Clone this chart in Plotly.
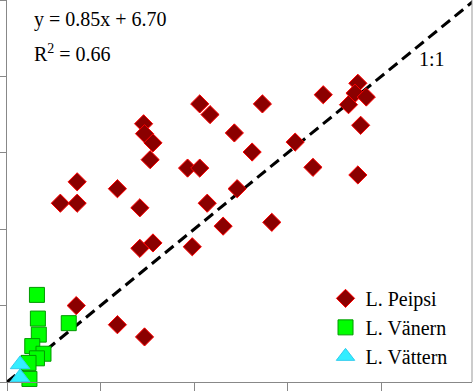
import plotly.graph_objects as go

# ---- data ----
peipsi_x = [37.5, 37.2, 38.4, 36.5, 33.8, 27.3, 20.6, 21.7, 14.6, 14.7, 15.6, 15.3,
            24.3, 37.8, 30.8, 26.2, 19.3, 20.6, 32.7, 37.5, 24.6, 7.5, 11.8, 5.7,
            7.5, 14.2, 21.4, 28.3, 23.1, 14.2, 15.6, 19.8, 7.4, 11.8, 14.7]
peipsi_y = [39.1, 37.8, 37.3, 36.3, 37.6, 36.4, 36.4, 35.0, 33.8, 32.5, 31.3, 29.1,
            32.6, 33.6, 31.4, 30.1, 28.0, 28.0, 28.1, 27.1, 25.3, 26.2, 25.3, 23.4,
            23.4, 22.8, 23.4, 20.9, 20.4, 17.5, 18.2, 17.7, 10.0, 7.5, 5.9]

vanern_x = [3.2, 3.3, 6.6, 3.4, 2.7, 3.9, 3.2, 2.3, 2.4]
vanern_y = [11.4, 8.3, 7.7, 6.2, 4.7, 3.7, 3.1, 2.5, 0.4]

vattern_x = [1.4, 1.4]
vattern_y = [2.3, 0.6]

one_to_one = [0, 50]
tick_vals = [0, 10, 20, 30, 40, 50]

eq_text = "y = 0.85x + 6.70"
r2_text = "R<sup>2</sup> = 0.66"
line_label = "1:1"

FONT = "Liberation Serif, Times New Roman, serif"

fig = go.Figure()

fig.add_trace(go.Scatter(
    x=one_to_one, y=one_to_one, mode="lines",
    line=dict(color="black", width=3, dash="11px,6px"),
    showlegend=False, hoverinfo="skip"))

fig.add_trace(go.Scatter(
    x=peipsi_x, y=peipsi_y, mode="markers", name="L. Peipsi",
    marker=dict(symbol="diamond", size=14, color="#8B0000",
                line=dict(color="#FF0000", width=1))))

fig.add_trace(go.Scatter(
    x=vanern_x, y=vanern_y, mode="markers", name="L. Vänern",
    marker=dict(symbol="square", size=15, color="#00FF00",
                line=dict(color="#009900", width=1))))

fig.add_trace(go.Scatter(
    x=vattern_x, y=vattern_y, mode="markers", name="L. Vättern",
    marker=dict(symbol="triangle-up", size=17, color="#33EEFF",
                line=dict(color="#33CCEE", width=1))))

fig.update_traces(cliponaxis=False, selector=dict(mode="markers"))

axis_common = dict(showgrid=False, zeroline=False, showticklabels=False,
                   ticks="outside", tickcolor="#888888", tickwidth=1,
                   showline=True, linecolor="#888888", linewidth=1,
                   tickvals=tick_vals)

fig.update_xaxes(range=[0, 49.7], ticklen=9, **axis_common)
fig.update_yaxes(range=[0, 50], ticklen=7, **axis_common)

fig.add_shape(type="line", xref="paper", yref="paper", x0=1, x1=1, y0=0, y1=1,
              line=dict(color="#999999", width=1))

fig.add_annotation(text=eq_text, xref="paper", yref="paper", x=0.053, y=0.948,
                   xanchor="left", yanchor="middle", showarrow=False,
                   font=dict(family=FONT, size=20, color="black"))
fig.add_annotation(text=r2_text, xref="paper", yref="paper", x=0.053, y=0.862,
                   xanchor="left", yanchor="middle", showarrow=False,
                   font=dict(family=FONT, size=20, color="black"))
fig.add_annotation(text=line_label, xref="paper", yref="paper", x=0.914, y=0.845,
                   xanchor="center", yanchor="middle", showarrow=False,
                   font=dict(family=FONT, size=20, color="black"))

fig.update_layout(
    width=474, height=391,
    margin=dict(l=7, r=2, t=0, b=9),
    plot_bgcolor="white", paper_bgcolor="white",
    font=dict(family=FONT, size=20, color="black"),
    legend=dict(x=0.685, y=0.27, xanchor="left", yanchor="top",
                bgcolor="rgba(0,0,0,0)", font=dict(family=FONT, size=20),
                tracegroupgap=0),
)

fig.write_html("out.html",
               config={"displayModeBar": False},
               post_script="document.body.style.margin='0px';"
                           "document.body.style.overflow='hidden';")
